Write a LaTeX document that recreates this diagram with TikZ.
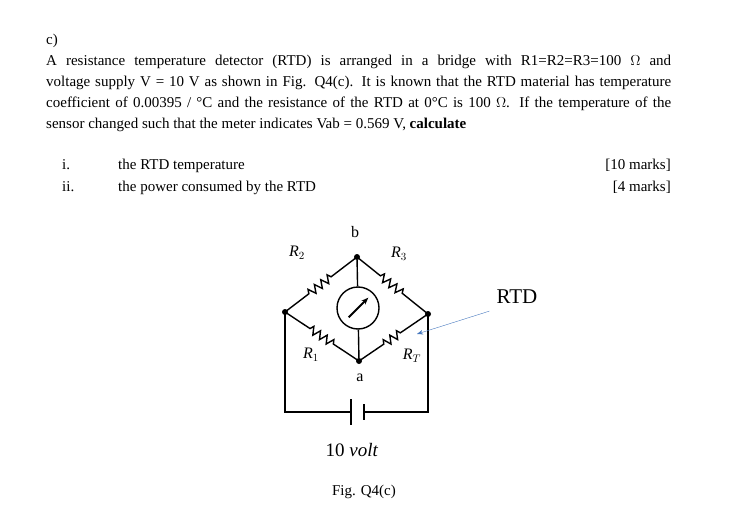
\documentclass[tikz,border=0pt]{standalone}
\usepackage{fontspec}
\setmainfont{Liberation Serif}
\usetikzlibrary{decorations.pathmorphing,arrows.meta}
\tikzset{
  wire/.style={line width=1.4pt},
  res/.style={wire, decorate, decoration={zigzag, segment length=8pt, amplitude=4pt, pre length=30pt, post length=30pt}},
  dot/.style={circle, fill, inner sep=0pt, minimum size=6pt},
  body/.style={font=\fontsize{15}{21}\selectfont, inner sep=0pt},
  lab/.style={font=\fontsize{16}{16}\selectfont\itshape, inner sep=0pt}
}
\newcommand\fullline[1]{\makebox[625pt][s]{#1}}
\begin{document}
\begin{tikzpicture}[x=1pt,y=-1pt]
\useasboundingbox (0,0) rectangle (736,508);
% question text
\node [body, anchor=base west] (c) at (46,45) {c)};
\node [body, anchor=base west] (q1) at (46,66) {\fullline{A resistance temperature detector (RTD) is arranged in a bridge with R1=R2=R3=100 $\Omega$ and}};
\node [body, anchor=base west] (q2) at (46,87) {\fullline{voltage supply V = 10 V as shown in Fig. Q4(c). It is known that the RTD material has temperature}};
\node [body, anchor=base west] (q3) at (46,108) {\fullline{coefficient of 0.00395 / °C and the resistance of the RTD at 0°C is 100 $\Omega$. If the temperature of the}};
\node [body, anchor=base west] (q4) at (46,129) {sensor changed such that the meter indicates Vab = 0.569 V, \textbf{calculate}};
\node [body, anchor=base west] (i1) at (62,169) {i.};
\node [body, anchor=base west] (t1) at (118,169) {the RTD temperature};
\node [body, anchor=base east] (m1) at (671,169) {[10 marks]};
\node [body, anchor=base west] (i2) at (62,191) {ii.};
\node [body, anchor=base west] (t2) at (118,191) {the power consumed by the RTD};
\node [body, anchor=base east] (m2) at (671,191) {[4 marks]};
% bridge
\node [dot] (L) at (285,312) {};
\node [dot] (B) at (357,257) {};
\node [dot] (R) at (428,314) {};
\node [dot] (A) at (359,361) {};
\node [circle, draw, line width=1.4pt, minimum size=42pt, inner sep=0pt] (M) at (358,308) {};
\draw [res] (L.center) -- (B.center);
\draw [res] (B.center) -- (R.center);
\draw [res] (L.center) -- (A.center);
\draw [res] (A.center) -- (R.center);
\draw [wire] (B) -- (M);
\draw [wire] (M) -- (A);
\draw [line width=2pt, -{Stealth[length=7pt]}] (M.south west) ++(6,-6) -- ([shift={(-5,5)}]M.north east);
% supply
\coordinate (BL) at (285,412);
\coordinate (BR) at (428,412);
\coordinate (P1) at (351,412);
\coordinate (P2) at (364,412);
\draw [wire] (L.center) -- (BL) -- (P1);
\draw [wire] (R.center) -- (BR) -- (P2);
\draw [line width=2.6pt] (351,399) -- (351,425);
\draw [line width=1.6pt] (364,404) -- (364,420);
% labels
\node [lab] (lb) at (355,232) {\upshape b};
\node [lab] (la) at (360,378) {\upshape a};
\node [lab] (l2) at (297,253) {R$_2$};
\node [lab] (l3) at (399,254) {R$_3$};
\node [lab] (l1) at (311,355) {R$_1$};
\node [lab] (lt) at (412,356) {R$_T$};
\node [font=\fontsize{21}{21}\selectfont, inner sep=1pt] (rtd) at (517,297) {RTD};
\draw [draw={rgb,255:red,70;green,120;blue,190}, -{Stealth[length=6pt]}] (rtd.south west) ++(-6,6) -- (417,334);
\node [font=\fontsize{19}{19}\selectfont, inner sep=0pt] (v) at (352,450) {10 \textit{volt}};
\node [body] (fig) at (364,492) {Fig. Q4(c)};
\end{tikzpicture}
\end{document}
